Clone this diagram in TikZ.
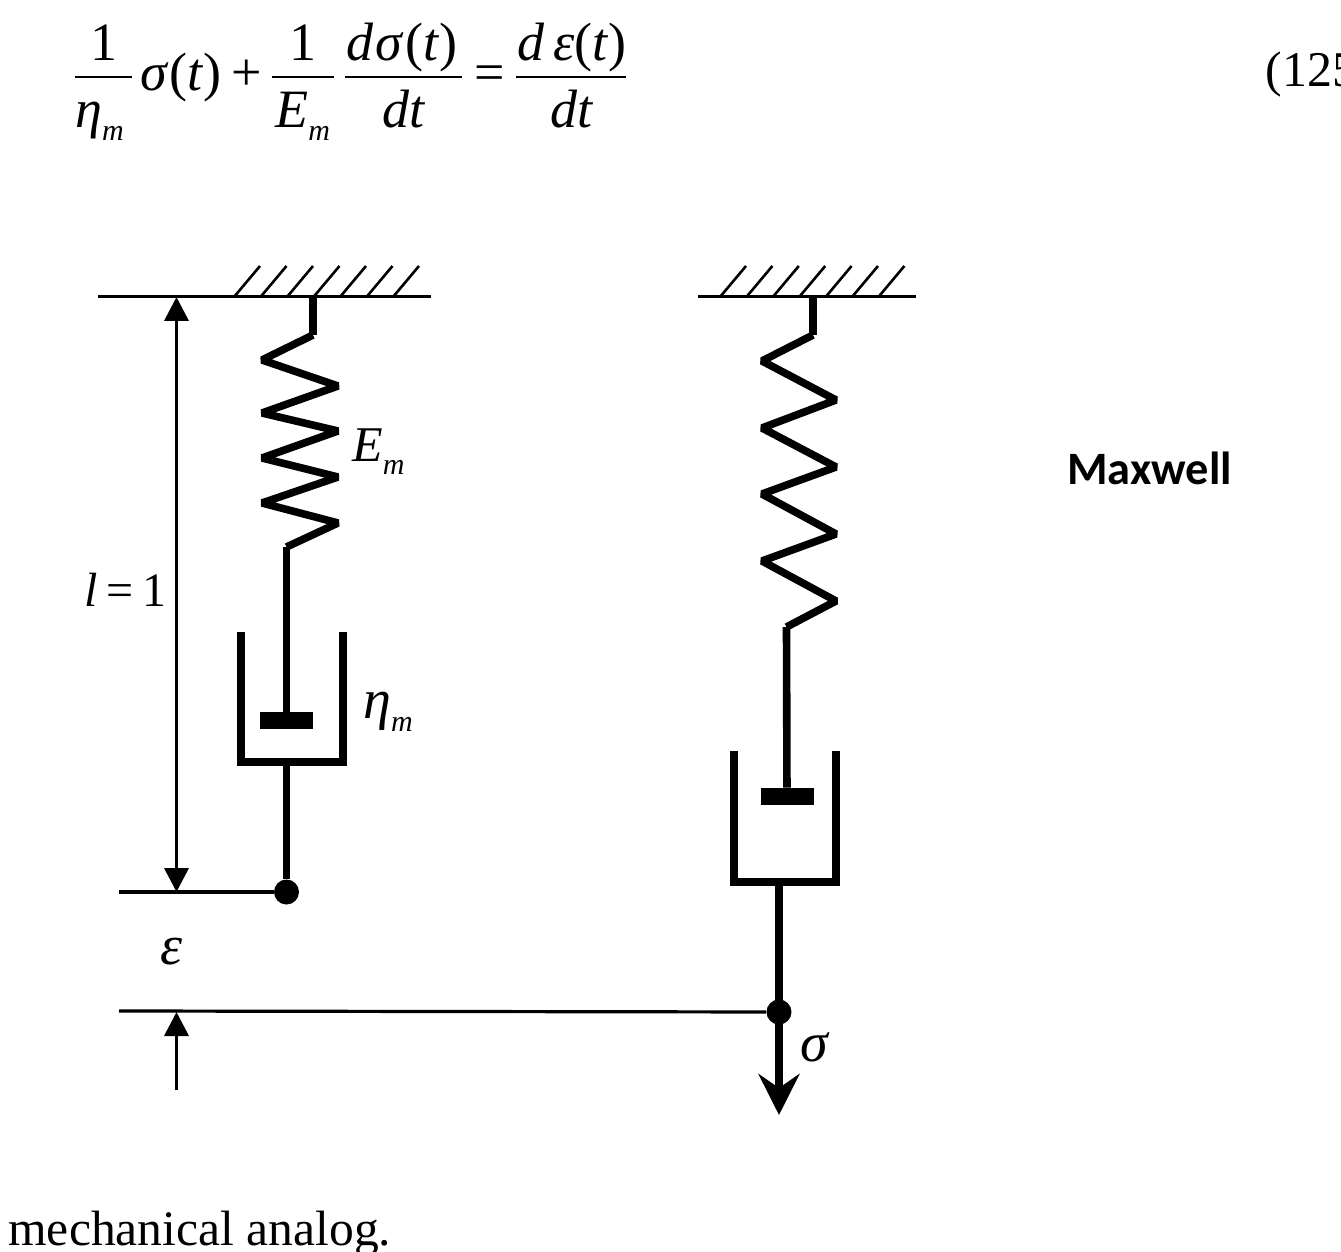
\documentclass[tikz,border=0pt]{standalone}
\usepackage{fontspec}
\setmainfont{Liberation Serif}
\newfontfamily\calibrifont{Carlito}
\usetikzlibrary{arrows.meta,calc}
\newcommand{\subm}{\raisebox{-6.5pt}{\fontsize{15}{15}\selectfont\textit{m}}}
\tikzset{
  eqtext/.style={font=\fontsize{27}{30}\selectfont, inner sep=0pt, anchor=base west},
  labeltext/.style={font=\fontsize{25}{28}\selectfont, inner sep=0pt, anchor=base west},
  greektext/.style={font=\fontsize{28}{30}\selectfont, inner sep=0pt, anchor=base west},
  eqbar/.style={line width=1.4pt},
  wall/.style={line width=1.5pt},
  hatch/.style={line width=1.3pt},
  coil/.style={line width=3.8pt, line join=bevel},
  rod/.style={line width=3.8pt},
  cup/.style={line width=4pt, line join=miter},
  piston/.style={rectangle, fill=black, inner sep=0pt, minimum width=26.5pt, minimum height=8.5pt},
  jointdot/.style={circle, fill=black, inner sep=0pt, minimum size=12.5pt},
  thinline/.style={line width=1.6pt},
  dimarrow/.style={line width=1.8pt},
}
\begin{document}
\begin{tikzpicture}[x=0.5pt, y=-0.5pt]
  \clip (0,0) rectangle (1341,1252);
  \fill[white] (0,0) rectangle (1341,1252);

  \node[eqtext] (one1) at (90,61) {1};
  \coordinate (bar1a) at (75,77);
  \coordinate (bar1b) at (132,77);
  \draw[eqbar] (bar1a) -- (bar1b);
  \node[eqtext] (etaden) at (75,128) {\textit{η}\subm};
  \node[eqtext] (sigt) at (140,91) {\textit{σ}\hspace{0.5pt}(\textit{t})};
  \node[eqtext] (plus) at (231,91) {+};
  \node[eqtext] (one2) at (289,61) {1};
  \coordinate (bar2a) at (272,77);
  \coordinate (bar2b) at (334,77);
  \draw[eqbar] (bar2a) -- (bar2b);
  \node[eqtext] (eden) at (275,128) {\textit{E}\subm};
  \node[eqtext] (dsig) at (346,61) {\textit{d}\hspace{1pt}\textit{σ}\hspace{1pt}(\textit{t})};
  \coordinate (bar3a) at (345,77);
  \coordinate (bar3b) at (462,77);
  \draw[eqbar] (bar3a) -- (bar3b);
  \node[eqtext] (dt1) at (382,128) {\textit{dt}};
  \node[eqtext] (eqsign) at (474,91) {=};
  \node[eqtext] (deps) at (517,61) {\textit{d\,ε}(\textit{t})};
  \coordinate (bar4a) at (516,77);
  \coordinate (bar4b) at (626,77);
  \draw[eqbar] (bar4a) -- (bar4b);
  \node[eqtext] (dt2) at (550,128) {\textit{dt}};
  \node[labeltext] (eqnum) at (1265,87) {(125};

  \coordinate (lwalla) at (98,297);
  \coordinate (lwallb) at (431,297);
  \draw[wall] (lwalla) -- (lwallb);
  \foreach \i in {0,...,6}
    \draw[hatch] ($(234,297)+(\i*26.5,0)$) -- +(26,-31);
  \coordinate (lstem) at (313,297);
  \coordinate (lcoiltop) at (313,335);
  \coordinate (lcoilend) at (286.5,547);
  \draw[rod] (lstem) -- (lcoiltop);
  \draw[coil] (lcoiltop) -- (262,360) -- (338,386) -- (262,413) -- (338,431) -- (262,458) -- (338,477) -- (262,503) -- (338,523) -- (lcoilend);
  \node[piston] (lpiston) at (286.5,720.5) {};
  \draw[rod] (lcoilend) -- (lpiston);
  \coordinate (lcupa) at (241,632);
  \coordinate (lcupb) at (241,762);
  \coordinate (lcupc) at (342.5,762);
  \coordinate (lcupd) at (342.5,632);
  \draw[cup] (lcupa) -- (lcupb) -- (lcupc) -- (lcupd);
  \coordinate (lcupmid) at (286.5,762);
  \node[jointdot] (ldot) at (286.5,892) {};
  \draw[rod] (lcupmid) -- (ldot);
  \coordinate (lrefa) at (119,892);
  \draw[thinline] (lrefa) -- (ldot);
  \coordinate (ltop) at (176.5,297);
  \coordinate (lbot) at (176.5,892);
  \draw[dimarrow, {Triangle[length=12pt, width=12pt]}-{Triangle[length=12pt, width=12pt]}] (ltop) -- (lbot);

  \coordinate (rwalla) at (698,297);
  \coordinate (rwallb) at (916,297);
  \draw[wall] (rwalla) -- (rwallb);
  \foreach \i in {0,...,6}
    \draw[hatch] ($(720,297)+(\i*26.4,0)$) -- +(26,-31);
  \coordinate (rstem) at (813,297);
  \coordinate (rcoiltop) at (813,335);
  \coordinate (rcoilend) at (786.5,627);
  \draw[rod] (rstem) -- (rcoiltop);
  \draw[coil] (rcoiltop) -- (762,361) -- (836,400) -- (762,428) -- (836,467) -- (762,494) -- (836,534) -- (762,561) -- (836,601) -- (rcoilend);
  \node[piston] (rpiston) at (787,796.5) {};
  \draw[rod] (rcoilend) -- (rpiston);
  \coordinate (rcupa) at (734,751);
  \coordinate (rcupb) at (734,882);
  \coordinate (rcupc) at (835.5,882);
  \coordinate (rcupd) at (835.5,751);
  \draw[cup] (rcupa) -- (rcupb) -- (rcupc) -- (rcupd);
  \coordinate (rcupmid) at (779,882);
  \node[jointdot] (rdot) at (779,1012) {};
  \draw[line width=4pt] (rcupmid) -- (rdot.center);
  \coordinate (lrefb) at (119,1011);
  \draw[thinline] (lrefb) -- (rdot);
  \coordinate (loadtip) at (779,1115);
  \draw[line width=4pt, -{Stealth[length=20.5pt, width=20.5pt, inset=7pt]}] (rdot.center) -- (loadtip);
  \coordinate (strainfoot) at (176.5,1090);
  \coordinate (straintip) at (176.5,1012);
  \draw[dimarrow, -{Triangle[length=12pt, width=12pt]}] (strainfoot) -- (straintip);

  \node[labeltext, font=\fontsize{24}{28}\selectfont] (lenlabel) at (84,606) {\textit{l}\hspace{4.5pt}=\hspace{4.5pt}1};
  \node[labeltext] (emlabel) at (352,461) {\textit{E}\subm};
  \node[greektext] (etalabel) at (363,718) {\textit{η}\subm};
  \node[greektext] (epslabel) at (160,964) {\textit{ε}};
  \node[greektext] (siglabel) at (800,1061) {\textit{σ}};
  \node[labeltext, font=\calibrifont\bfseries\fontsize{23.2}{26}\selectfont] (modelname) at (1067,484) {Maxwell};
  \node[labeltext, font=\fontsize{24.8}{28}\selectfont] (caption) at (8,1245) {mechanical analog.};
\end{tikzpicture}
\end{document}
